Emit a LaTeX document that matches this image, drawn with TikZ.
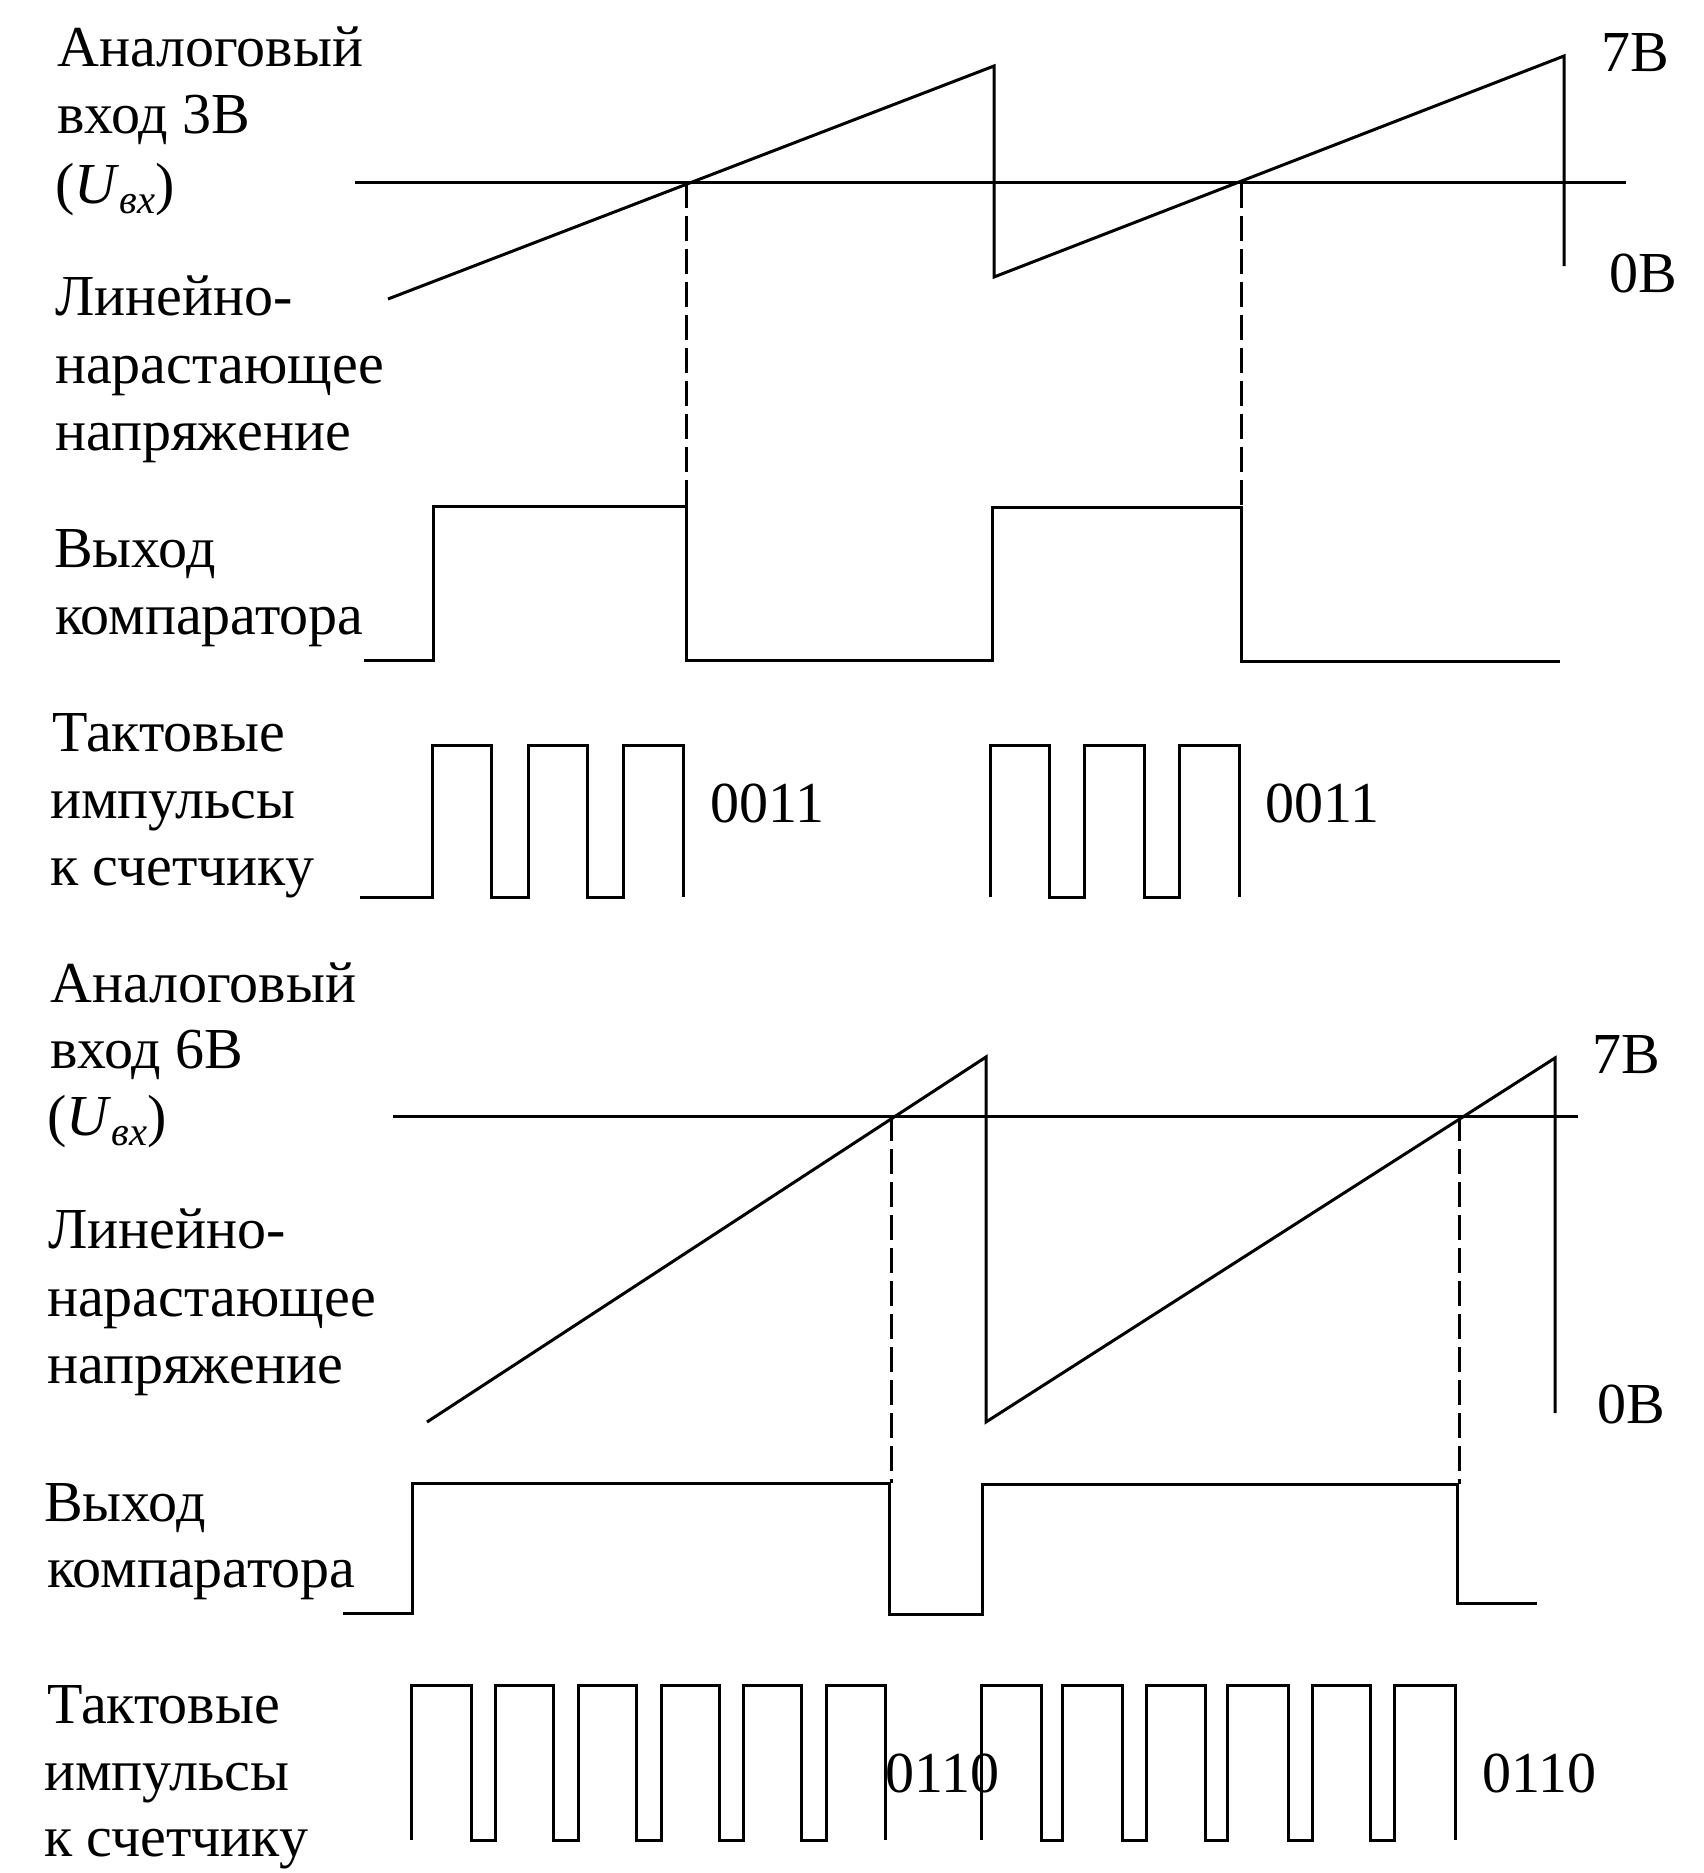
\documentclass[tikz,border=0pt]{standalone}
\usepackage{fontspec}
\setmainfont{Liberation Serif}
\newcommand{\lblfont}{\fontsize{58}{62}\selectfont}
\begin{document}
\begin{tikzpicture}[x=1pt,y=-1pt,
  wave/.style={line width=3pt, line join=miter},
  refline/.style={line width=3pt},
  dashline/.style={line width=3pt, dash pattern=on 25pt off 8pt},
  lbl/.style={anchor=base west, inner sep=0pt, font=\lblfont}]
\fill[white] (0,0) rectangle (1704,1873);
\useasboundingbox (0,0) rectangle (1704,1873);

% ---------- top panel labels ----------
\node[lbl] (a1) at (57,67) {Аналоговый};
\node[lbl] (a2) at (57,134) {вход 3В};
\node[lbl] (a3) at (55,203) {(\textit{U}\textsubscript{\textit{вх}})};
\node[lbl] (a4) at (55,315) {Линейно-};
\node[lbl] (a5) at (55,383) {нарастающее};
\node[lbl] (a6) at (55,450) {напряжение};
\node[lbl] (a7) at (54,567) {Выход};
\node[lbl] (a8) at (55,634) {компаратора};
\node[lbl] (a9) at (52,751) {Тактовые};
\node[lbl] (a10) at (50,818) {импульсы};
\node[lbl] (a11) at (50,885) {к счетчику};
\node[lbl] (v7a) at (1601,72) {7В};
\node[lbl] (v0a) at (1609,292) {0В};
\node[lbl] (c1a) at (710,822) {0011};
\node[lbl] (c1b) at (1265,822) {0011};

% ---------- top panel waves ----------
\draw[refline] (355,182.5) -- (1626,182.5);
\draw[wave] (388,299) -- (994,66) -- (994,277) -- (1564,56) -- (1564,266);
\coordinate (x1) at (686,182.5);
\coordinate (x2) at (1241,182.5);
\draw[dashline] (x1) -- (686,506);
\draw[dashline] (x2) -- (1241,507);
\draw[wave] (364,660) -- (433,660) -- (433,506) -- (686,506) -- (686,660)
  -- (992,660) -- (992,507) -- (1241,507) -- (1241,661) -- (1560,661);
\draw[wave] (360,897) -- (432,897) -- (432,745) -- (491,745) -- (491,897)
  -- (528,897) -- (528,745) -- (587,745) -- (587,897) -- (623,897)
  -- (623,745) -- (683,745) -- (683,897);
\draw[wave] (990,897) -- (990,745) -- (1049,745) -- (1049,897) -- (1084,897)
  -- (1084,745) -- (1144,745) -- (1144,897) -- (1179,897) -- (1179,745)
  -- (1239,745) -- (1239,897);

% ---------- bottom panel labels ----------
\node[lbl] (b1) at (50,1002) {Аналоговый};
\node[lbl] (b2) at (50,1068) {вход 6В};
\node[lbl] (b3) at (47,1135) {(\textit{U}\textsubscript{\textit{вх}})};
\node[lbl] (b4) at (48,1248) {Линейно-};
\node[lbl] (b5) at (47,1316) {нарастающее};
\node[lbl] (b6) at (47,1383) {напряжение};
\node[lbl] (b7) at (44,1521) {Выход};
\node[lbl] (b8) at (47,1587) {компаратора};
\node[lbl] (b9) at (47,1723) {Тактовые};
\node[lbl] (b10) at (44,1790) {импульсы};
\node[lbl] (b11) at (44,1856) {к счетчику};
\node[lbl] (v7b) at (1592,1073) {7В};
\node[lbl] (v0b) at (1597,1423) {0В};
\node[lbl] (c2a) at (885,1792) {0110};
\node[lbl] (c2b) at (1482,1792) {0110};

% ---------- bottom panel waves ----------
\draw[refline] (393,1116) -- (1578,1116);
\draw[wave] (427,1422) -- (986,1057) -- (986,1422) -- (1555,1058) -- (1555,1413);
\coordinate (y1) at (891,1116);
\coordinate (y2) at (1459,1116);
\draw[dashline] (y1) -- (891,1483);
\draw[dashline] (y2) -- (1459,1484);
\draw[wave] (343,1613) -- (412,1613) -- (412,1483) -- (889,1483) -- (889,1614)
  -- (982,1614) -- (982,1484) -- (1457,1484) -- (1457,1603) -- (1537,1603);
\draw[wave] (411,1840) -- (411,1685) -- (471,1685) -- (471,1840) -- (495,1840)
  -- (495,1685) -- (553,1685) -- (553,1840) -- (578,1840) -- (578,1685)
  -- (636,1685) -- (636,1840) -- (661,1840) -- (661,1685) -- (719,1685)
  -- (719,1840) -- (743,1840) -- (743,1685) -- (801,1685) -- (801,1840)
  -- (826,1840) -- (826,1685) -- (885,1685) -- (885,1840);
\draw[wave] (981,1840) -- (981,1685) -- (1041,1685) -- (1041,1840) -- (1062,1840)
  -- (1062,1685) -- (1122,1685) -- (1122,1840) -- (1146,1840) -- (1146,1685)
  -- (1205,1685) -- (1205,1840) -- (1227,1840) -- (1227,1685) -- (1288,1685)
  -- (1288,1840) -- (1312,1840) -- (1312,1685) -- (1370,1685) -- (1370,1840)
  -- (1394,1840) -- (1394,1685) -- (1455,1685) -- (1455,1840);
\end{tikzpicture}
\end{document}
